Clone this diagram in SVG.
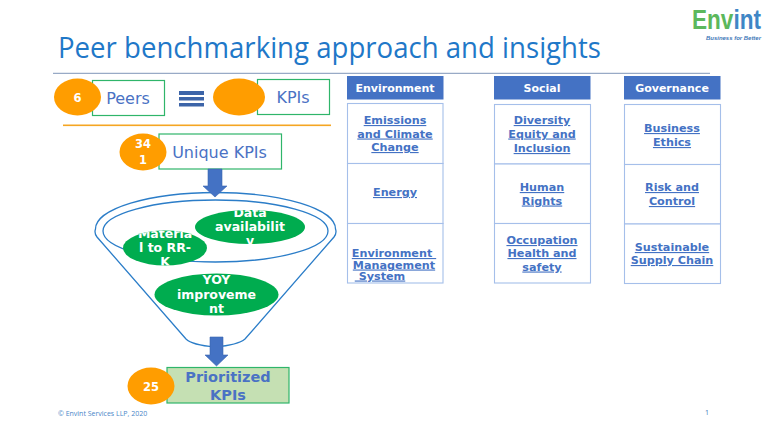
<svg xmlns="http://www.w3.org/2000/svg" width="768" height="433" viewBox="0 0 768 433">
<style>
text{font-family:"DejaVu Sans",sans-serif}
.box{fill:#fff;stroke:#2fb56a;stroke-width:1.2}
.org{fill:#ff9d00}
.n{fill:#fff;font-weight:700;font-size:11.5px;text-anchor:middle}
.lab{fill:#4a72c4;text-anchor:middle}
.g{fill:#00ac4f}
.gt{fill:#fff;font-weight:700;font-size:12.5px;text-anchor:middle}
.fun{fill:none;stroke:#2b7dc8;stroke-width:1.3}
.arr{fill:#4472c4;stroke:#3a66b0;stroke-width:.6}
.hd{fill:#4472c4}
.hdt{fill:#fff;font-weight:700;font-size:11px;text-anchor:middle}
.cell{fill:#fff;stroke:#a5bfea;stroke-width:1.1}
.lnk{fill:#4472c4;font-weight:700;font-size:11.2px;text-anchor:middle;text-decoration:underline}
</style>
<defs>
<clipPath id="c1"><ellipse cx="250" cy="227" rx="55" ry="17"/></clipPath>
<clipPath id="c2"><ellipse cx="165" cy="248" rx="42" ry="17.5"/></clipPath>
<clipPath id="c3"><ellipse cx="216.500" cy="294.500" rx="62" ry="21"/></clipPath>
</defs>
<text x="58" y="58" font-size="28.800" fill="#1f78c8" style="font-family:'Open Sans',sans-serif" textLength="543" lengthAdjust="spacingAndGlyphs">Peer benchmarking approach and insights</text>
<rect x="53" y="72.800" width="657" height="1" fill="#7f96b8"/>
<g id="logo">
<text x="692" y="29" font-size="27" font-weight="700" fill="#5cb85c" style="font-family:'Liberation Sans',sans-serif" textLength="69" lengthAdjust="spacingAndGlyphs">Env<tspan fill="#3f86c6">int</tspan></text>
<text x="706" y="39.800" font-size="5.500" font-style="italic" font-weight="700" fill="#3f78b8" style="font-family:'Liberation Sans',sans-serif" textLength="55" lengthAdjust="spacingAndGlyphs">Business for Better</text>
</g>
<g id="peers">
<rect class="box" x="92.500" y="80.500" width="72" height="35"/>
<text class="lab" x="128" y="104" font-size="16">Peers</text>
<ellipse class="org" cx="77.500" cy="97" rx="23.500" ry="18.500"/>
<text class="n" x="77.500" y="102">6</text>
</g>
<g id="equals" fill="#3c64a8">
<rect x="179" y="91" width="25" height="4"/><rect x="179" y="97" width="25" height="3.500"/><rect x="179" y="103" width="25" height="3.500"/>
</g>
<g id="kpis">
<rect class="box" x="257.500" y="79.500" width="72" height="35"/>
<text class="lab" x="293" y="103" font-size="16">KPIs</text>
<ellipse class="org" cx="239" cy="97" rx="26" ry="18.500"/>
</g>
<rect x="63" y="124.500" width="268" height="1.600" fill="#f5a623"/>
<g id="unique">
<rect class="box" x="159" y="134" width="122.500" height="35"/>
<text class="lab" x="219.500" y="158" font-size="16">Unique KPIs</text>
<ellipse class="org" cx="143" cy="152" rx="23.500" ry="18.500"/>
<text class="n" x="143" y="148">34</text><text class="n" x="143" y="164">1</text>
</g>
<g id="funnel">
<ellipse class="fun" cx="215.500" cy="231" rx="112.500" ry="31"/>
<path class="fun" d="M97 237Q94 233 95.500 229A120 36.500 0 0 1 335.500 229Q337 233 334 237L245 339Q238 345 215 347Q192 345 186 339Z"/>
</g>
<g id="data"><ellipse class="g" cx="250" cy="227" rx="55" ry="17"/>
<g clip-path="url(#c1)"><text class="gt" x="250" y="217">Data</text><text class="gt" x="250" y="231">availabilit</text><text class="gt" x="250" y="245">y</text></g></g>
<g id="material"><ellipse class="g" cx="165" cy="248" rx="42" ry="17.500"/>
<g clip-path="url(#c2)"><text class="gt" x="165" y="238">Materia</text><text class="gt" x="165" y="252">l to RR-</text><text class="gt" x="165" y="266">K</text></g></g>
<g id="yoy"><ellipse class="g" cx="216.500" cy="294.500" rx="62" ry="21"/>
<g clip-path="url(#c3)"><text class="gt" x="216.500" y="284">YOY</text><text class="gt" x="216.500" y="299">improveme</text><text class="gt" x="216.500" y="313">nt</text></g></g>
<g id="connectors">
<path class="arr" d="M208 169H222V186H227L215 197L203 186H208Z"/>
<path class="arr" d="M210 337H223V355H228L216.500 366L205 355H210Z"/>
</g>
<g id="prioritized">
<rect x="167" y="367.500" width="122" height="35.500" fill="#c5e0b3" stroke="#2fb56a" stroke-width="1.200"/>
<text class="lab" x="228" y="382" font-size="14.500" font-weight="700">Prioritized</text>
<text class="lab" x="228" y="400" font-size="14.500" font-weight="700">KPIs</text>
<ellipse class="org" cx="151" cy="386" rx="23.500" ry="18.500"/>
<text class="n" x="151" y="391">25</text>
</g>
<g id="environment">
<rect class="hd" x="347" y="76" width="96.500" height="23.500"/><text class="hdt" x="395" y="92">Environment</text>
<rect class="cell" x="347.500" y="103.500" width="95.500" height="60"/><rect class="cell" x="347.500" y="163.500" width="95.500" height="60"/><rect class="cell" x="347.500" y="223.500" width="95.500" height="59.500"/>
<text class="lnk" x="395" y="124">Emissions</text><text class="lnk" x="395" y="137.500">and Climate</text><text class="lnk" x="395" y="151">Change</text>
<text class="lnk" x="395" y="196">Energy</text>
<text class="lnk" x="394" y="257" xml:space="preserve">Environment </text><text class="lnk" x="394" y="268.500">Management</text><text class="lnk" x="380" y="279.500" xml:space="preserve"> System</text>
</g>
<g id="social">
<rect class="hd" x="494" y="76" width="96.500" height="23.500"/><text class="hdt" x="542" y="92">Social</text>
<rect class="cell" x="494.500" y="104.500" width="96" height="59.500"/><rect class="cell" x="494.500" y="164" width="96" height="59.500"/><rect class="cell" x="494.500" y="223.500" width="96" height="59.500"/>
<text class="lnk" x="542" y="124">Diversity</text><text class="lnk" x="542" y="137.500">Equity and</text><text class="lnk" x="542" y="152">Inclusion</text>
<text class="lnk" x="542" y="191">Human</text><text class="lnk" x="542" y="204.500">Rights</text>
<text class="lnk" x="542" y="244">Occupation</text><text class="lnk" x="542" y="257">Health and</text><text class="lnk" x="542" y="270.500">safety</text>
</g>
<g id="governance">
<rect class="hd" x="624" y="76" width="96.500" height="23.500"/><text class="hdt" x="672" y="92">Governance</text>
<rect class="cell" x="624.500" y="104.500" width="96" height="60"/><rect class="cell" x="624.500" y="164.500" width="96" height="59.500"/><rect class="cell" x="624.500" y="224" width="96" height="59.500"/>
<text class="lnk" x="672" y="132">Business</text><text class="lnk" x="672" y="146">Ethics</text>
<text class="lnk" x="672" y="191">Risk and</text><text class="lnk" x="672" y="205">Control</text>
<text class="lnk" x="672" y="251">Sustainable</text><text class="lnk" x="672" y="264">Supply Chain</text>
</g>
<text x="58" y="416" font-size="7" fill="#4a86c8" style="font-family:'Open Sans',sans-serif">© Envint Services LLP, 2020</text>
<text x="705" y="415" font-size="7" fill="#3f78b8" style="font-family:'Open Sans',sans-serif">1</text>
</svg>
